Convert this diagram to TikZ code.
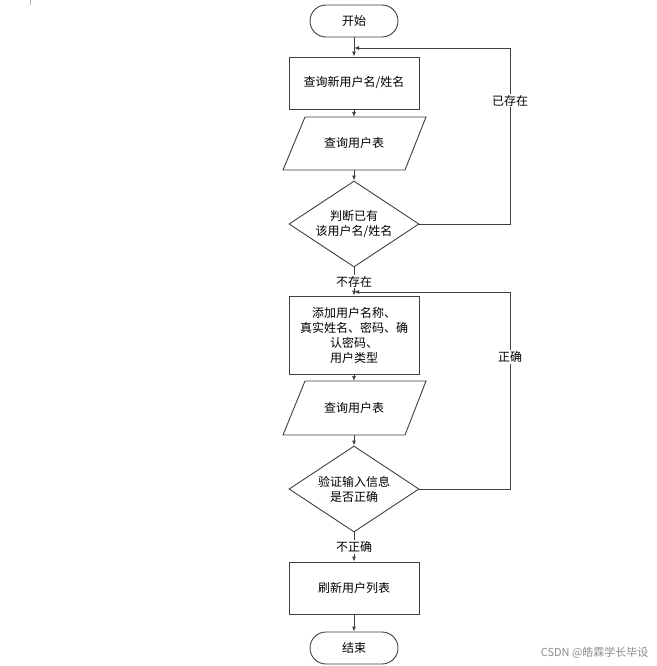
\documentclass[tikz,border=0pt]{standalone}
\usepackage{fontspec}
\setmainfont{Noto Sans CJK SC}
\usetikzlibrary{shapes.geometric,arrows.meta}
\begin{document}
\begin{tikzpicture}[x=1pt,y=-1pt,
  line/.style={draw=black!75,line width=0.9pt},
  arr/.style={line,-{Latex[length=5pt,width=4pt]}},
  txt/.style={font=\fontsize{12}{15}\selectfont,align=center},
  boxn/.style={line,txt,minimum width=130pt,minimum height=52pt,inner sep=2pt},
  term/.style={line,txt,rounded corners=16pt,minimum width=88pt,minimum height=32pt},
  dia/.style={line,txt,diamond,aspect=1.55,minimum width=130pt,minimum height=86pt,inner sep=0pt}]
\useasboundingbox (0,0) rectangle (656,666);
\fill[white] (0,0) rectangle (656,666);
\draw[black!30] (30,0) -- (30,5);
\node[term] (s) at (354,21) {开始};
\node[boxn] (r1) at (354,83) {查询新用户名/姓名};
\draw[line] (305,117) -- (426,117) -- (405,170) -- (283,170) -- cycle;
\node[txt] (p1) at (354,143) {查询用户表};
\node[dia] (d1) at (354,224) {判断已有\\该用户名/姓名};
\node[boxn,minimum height=78pt] (r2) at (354,335) {添加用户名称、\\真实姓名、密码、确\\认密码、\\用户类型};
\draw[line] (305,381) -- (426,381) -- (405,435) -- (283,435) -- cycle;
\node[txt] (p2) at (354,408) {查询用户表};
\node[dia] (d2) at (354,489) {验证输入信息\\是否正确};
\node[boxn] (r3) at (354,588) {刷新用户列表};
\node[term] (e) at (354,648) {结束};
\coordinate (t1) at (354,117);
\coordinate (b1) at (354,170);
\coordinate (t2) at (354,381);
\coordinate (b2) at (354,435);
\draw[arr] (s) -- (r1);
\draw[arr] (r1) -- (t1);
\draw[arr] (b1) -- (d1);
\draw[arr] (d1) -- node[txt,fill=white,inner sep=1pt,pos=0.5] {不存在} (r2);
\draw[arr] (r2) -- (t2);
\draw[arr] (b2) -- (d2);
\draw[arr] (d2) -- node[txt,fill=white,inner sep=1pt,pos=0.5] {不正确} (r3);
\draw[arr] (r3) -- (e);
\draw[arr] (d1.east) -- (510,224) -- node[txt,fill=white,inner sep=1pt,pos=0.7] {已存在} (510,48) -- (354,48);
\draw[arr] (d2.east) -- (510,489) -- node[txt,fill=white,inner sep=1pt,pos=0.67] {正确} (510,292) -- (354,292);
\node[font=\fontsize{11}{13}\selectfont,text=black!45,anchor=south east] (wm) at (652,662) {CSDN @皓霖学长毕设};
\end{tikzpicture}
\end{document}
